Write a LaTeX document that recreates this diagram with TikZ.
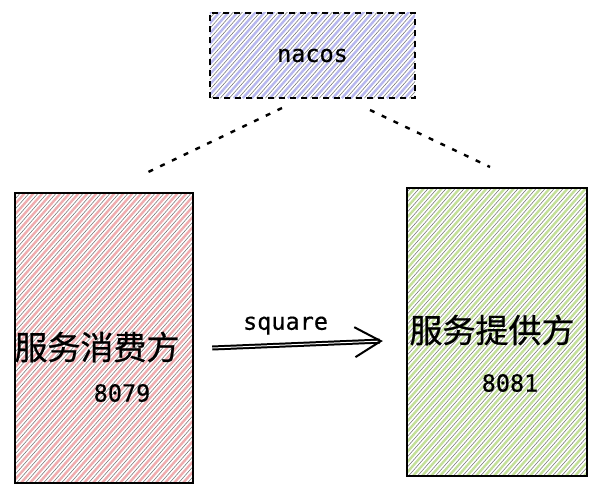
\documentclass[tikz,border=0pt]{standalone}
\usepackage{fontspec}
\setmonofont{DejaVu Sans Mono}[FakeBold=0.6]
\newfontfamily\cjk{Noto Sans CJK SC}[FakeBold=0.7]
\usetikzlibrary{arrows.meta}
\definecolor{hatchred}{HTML}{EFADB0}
\definecolor{hatchgreen}{HTML}{C4E09A}
\definecolor{hatchblue}{HTML}{B8B8EE}
% hand drawn hatching inside a node
\newcommand\hatchfill[2]{%
  \begin{scope}
    \clip (#1.south west) rectangle (#1.north east);
    \foreach \i in {-300,-291,...,220} {
      \draw[#2,line width=2.4pt] ([xshift=\i pt]#1.south west) -- ++(300,-340);
      \draw[black!55,line width=0.55pt] ([xshift=\i pt+4.5pt]#1.south west) -- ++(300,-340);
    }
  \end{scope}}

\begin{document}
\begin{tikzpicture}[x=1pt,y=-1pt]
\tikzset{frame/.style={inner sep=0pt}}
\tikzset{sketch/.style={draw=black,line width=2.2pt}}
\tikzset{tag/.style={font=\cjk\fontsize{33}{38}\selectfont}}
\tikzset{port/.style={font=\ttfamily\fontsize{23.5}{28}\selectfont}}
\tikzset{link/.style={line width=2.4pt,dash pattern=on 5pt off 8pt}}
\useasboundingbox (0,0) rectangle (600,498);

\node[frame,minimum width=205pt,minimum height=85pt] (nacos) at (312.5,55.5) {};
\node[frame,minimum width=178pt,minimum height=290pt] (consumer) at (104,338) {};
\node[frame,minimum width=180pt,minimum height=288pt] (provider) at (497,332) {};

\hatchfill{nacos}{hatchblue}
\hatchfill{consumer}{hatchred}
\hatchfill{provider}{hatchgreen}
\draw[line width=2pt,dash pattern=on 6pt off 5pt] (nacos.south west) rectangle (nacos.north east);
\draw[sketch] (consumer.south west) rectangle (consumer.north east);
\draw[sketch] (provider.south west) rectangle (provider.north east);

\node[port] (nacoslbl) at (nacos.center) {nacos};
\node[tag] (consumerlbl) at (97,347) {服务消费方};
\node[port] (consumerport) at (122,393) {8079};
\node[tag] (providerlbl) at (492,330) {服务提供方};
\node[port] (providerport) at (510,383) {8081};

% registry links
\coordinate (ltop) at (282,108);
\coordinate (lend) at (142,175);
\coordinate (rtop) at (370,110);
\coordinate (rend) at (490,167);
\draw[link] (ltop) -- (lend);
\draw[link] (rtop) -- (rend);

% call
\draw[line width=2pt,double distance=1pt,-{Straight Barb[length=26pt,width=30pt,line width=2pt]}]
  ([yshift=-10pt]consumer.east) ++(19,0) coordinate (cstart) -- ([yshift=-9pt,xshift=-24pt]provider.west)
  node[pos=0.43,above=6pt,port] (square) {square};
\end{tikzpicture}
\end{document}
